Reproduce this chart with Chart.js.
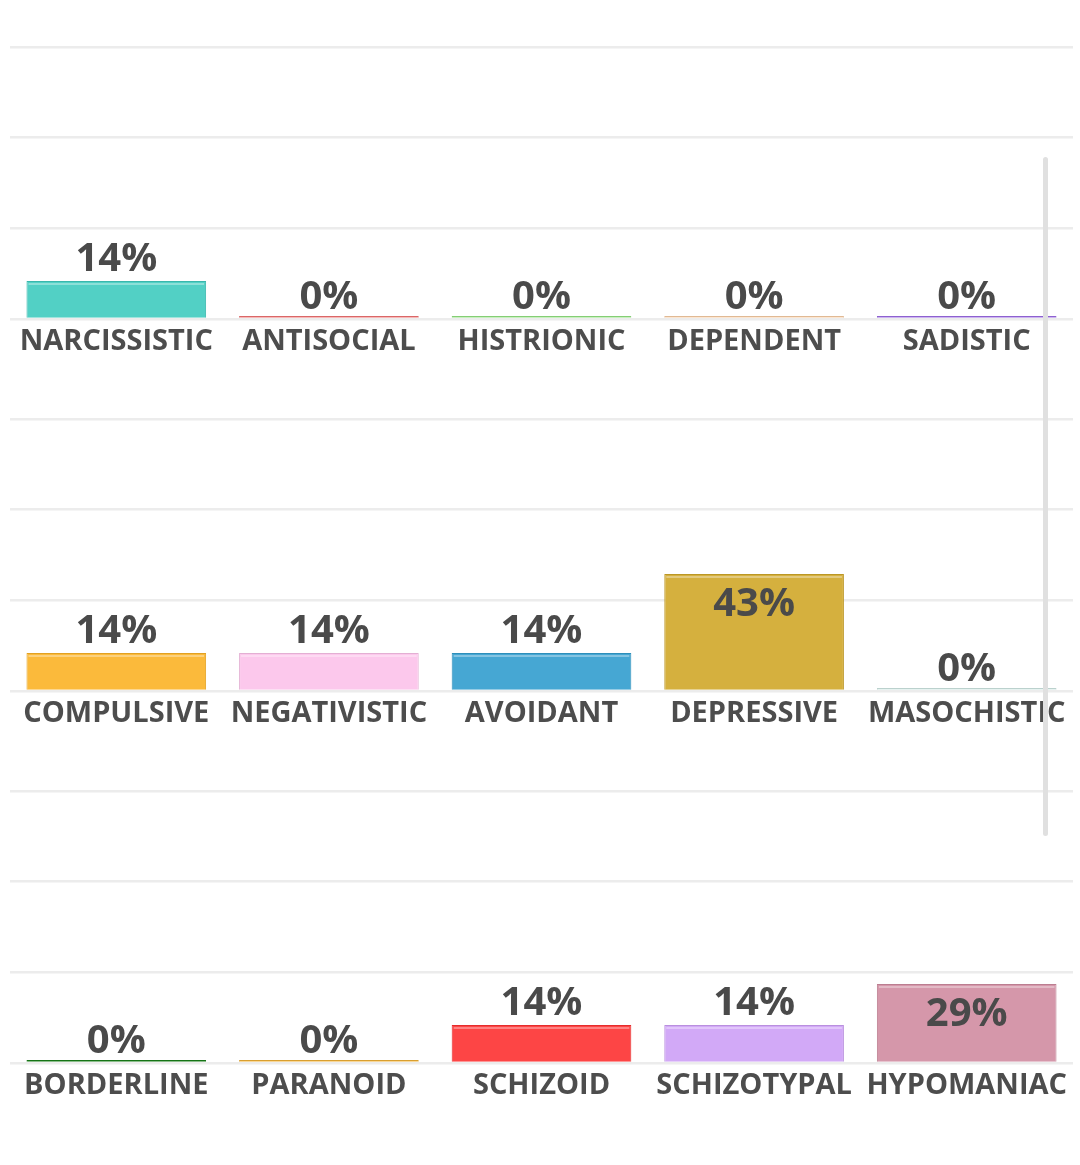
<!DOCTYPE html>
<html lang="en">
<head>
<meta charset="UTF-8" />
<title>Personality Profile</title>
<script src="https://cdn.jsdelivr.net/npm/chart.js"></script>
<style>
body {
    margin: 0;
    background: #fff;
    width: 1080px;
    height: 1165px;
    overflow: hidden;
    position: relative;
}
.chart-box {
    position: absolute;
    left: 0;
    width: 1080px;
    height: 372px;
}
.scroll-bar {
    position: absolute;
    left: 1043px;
    top: 157px;
    width: 5px;
    height: 679px;
    background: #e0e0e0;
    border-radius: 3px;
}
</style>
</head>
<body>
<div class="chart-box" style="top:0"><canvas id="row1"></canvas></div>
<div class="chart-box" style="top:372px"><canvas id="row2"></canvas></div>
<div class="chart-box" style="top:744px"><canvas id="row3"></canvas></div>
<div class="scroll-bar"></div>

<script>
// data
const row1Labels = ['NARCISSISTIC', 'ANTISOCIAL', 'HISTRIONIC', 'DEPENDENT', 'SADISTIC'];
const row1Values = [14, 0, 0, 0, 0];
const row1Colors = ['#52d0c5', '#f28080', '#9ee68e', '#f9d2ad', '#a67ae8'];

const row2Labels = ['COMPULSIVE', 'NEGATIVISTIC', 'AVOIDANT', 'DEPRESSIVE', 'MASOCHISTIC'];
const row2Values = [14, 14, 14, 43, 0];
const row2Colors = ['#fbba3b', '#fcc8ec', '#46a7d3', '#d5b03e', '#d4eae6'];

const row3Labels = ['BORDERLINE', 'PARANOID', 'SCHIZOID', 'SCHIZOTYPAL', 'HYPOMANIAC'];
const row3Values = [0, 0, 14, 14, 29];
const row3Colors = ['#2f8c2f', '#f2b848', '#fd4545', '#d2a9f7', '#d597aa'];

const yTicks = [0, 100 / 3, 200 / 3, 100];

const textColor = '#4a4a4a';

// darker edge for each bar
function shade(hex, amt) {
    const n = parseInt(hex.slice(1), 16);
    const r = Math.max(0, Math.min(255, (n >> 16) + amt));
    const g = Math.max(0, Math.min(255, ((n >> 8) & 255) + amt));
    const b = Math.max(0, Math.min(255, (n & 255) + amt));
    return 'rgb(' + r + ',' + g + ',' + b + ')';
}

// percentage labels above the bar, or inside it for the tall ones
const valueLabels = {
    id: 'valueLabels',
    afterDatasetsDraw(chart) {
        const ctx = chart.ctx;
        const yScale = chart.scales.y;
        const meta = chart.getDatasetMeta(0);
        const values = chart.data.datasets[0].data;
        ctx.save();
        ctx.font = 'bold 40px "Open Sans"';
        ctx.fillStyle = textColor;
        ctx.textAlign = 'center';
        ctx.textBaseline = 'alphabetic';
        meta.data.forEach((bar, i) => {
            const v = values[i];
            const top = yScale.getPixelForValue(v);
            const y = v > 20 ? top + 42 : top - 10;
            ctx.fillText(v + '%', bar.x, y);
        });
        ctx.restore();
    }
};

// thin light line near the top of each bar
const barShine = {
    id: 'barShine',
    afterDatasetsDraw(chart) {
        const ctx = chart.ctx;
        const meta = chart.getDatasetMeta(0);
        const values = chart.data.datasets[0].data;
        ctx.save();
        ctx.strokeStyle = 'rgba(255,255,255,0.45)';
        ctx.lineWidth = 1.5;
        meta.data.forEach((bar, i) => {
            if (values[i] <= 0) return;
            const half = bar.width / 2;
            ctx.beginPath();
            ctx.moveTo(bar.x - half + 2, bar.y + 3);
            ctx.lineTo(bar.x + half - 2, bar.y + 3);
            ctx.stroke();
        });
        ctx.restore();
    }
};

function makeRow(id, labels, values, colors) {
    new Chart(document.getElementById(id), {
        type: 'bar',
        data: {
            labels: labels,
            datasets: [{
                data: values,
                backgroundColor: colors,
                borderColor: colors.map(c => shade(c, -25)),
                borderWidth: 1,
                minBarLength: 3,
                barPercentage: 0.845,
                categoryPercentage: 1
            }]
        },
        options: {
            responsive: true,
            maintainAspectRatio: false,
            animation: false,
            layout: { padding: { top: 47, left: 10, right: 7, bottom: 0 } },
            plugins: {
                legend: { display: false },
                tooltip: { enabled: false }
            },
            scales: {
                x: {
                    grid: { display: false },
                    border: { display: false },
                    ticks: {
                        color: '#4d4d4d',
                        font: { family: 'Open Sans', size: 29, weight: 'bold' },
                        maxRotation: 0,
                        autoSkip: false,
                        padding: -3
                    },
                    afterFit(scale) { scale.height = 53; }
                },
                y: {
                    min: 0,
                    max: 100,
                    border: { display: false },
                    grid: { color: '#ececec', lineWidth: 2.5, drawTicks: false },
                    ticks: { display: false },
                    afterBuildTicks(scale) {
                        scale.ticks = yTicks.map(v => ({ value: v }));
                    },
                    afterFit(scale) { scale.width = 0; }
                }
            }
        },
        plugins: [valueLabels, barShine]
    });
}

makeRow('row1', row1Labels, row1Values, row1Colors);
makeRow('row2', row2Labels, row2Values, row2Colors);
makeRow('row3', row3Labels, row3Values, row3Colors);
</script>
</body>
</html>
